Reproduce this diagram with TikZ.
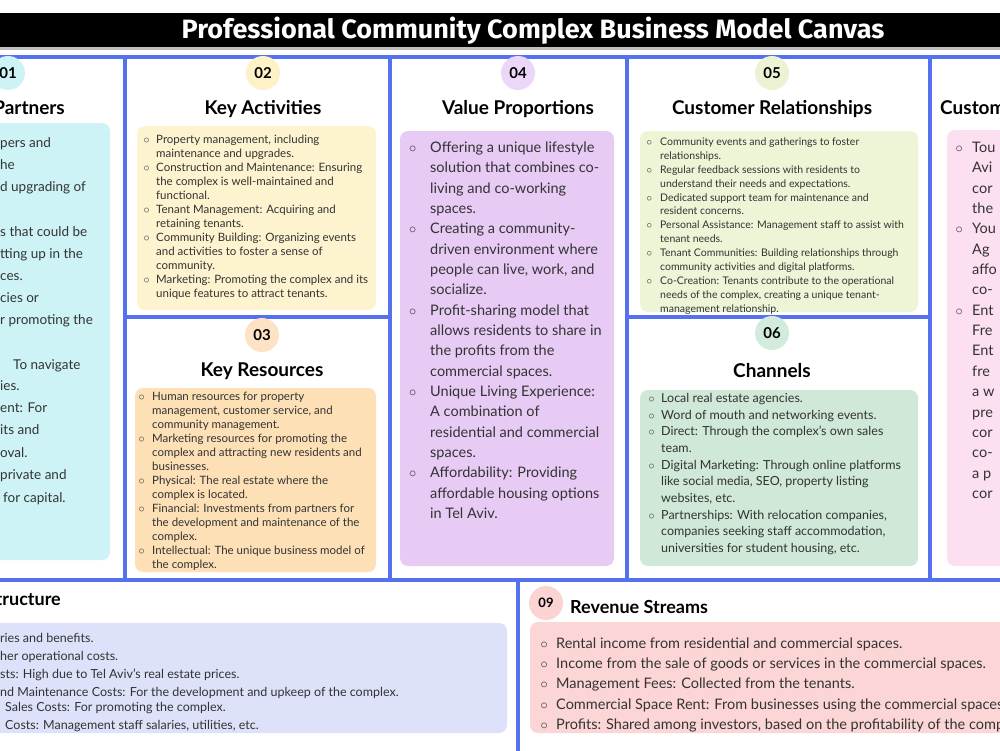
\documentclass[tikz,border=0pt]{standalone}
\usepackage{fontspec}
\setmainfont{Lato}
\newfontfamily\ttlfont{Fira Sans}
\definecolor{bl}{HTML}{5571F0}
\definecolor{cyanbx}{HTML}{CDF3F7}
\definecolor{yelc}{HTML}{FDF1C7}
\definecolor{yelbx}{HTML}{FDF3CF}
\definecolor{peac}{HTML}{FDE3C3}
\definecolor{peabx}{HTML}{FDE0B5}
\definecolor{lavc}{HTML}{EDD7F8}
\definecolor{lavbx}{HTML}{E7CBF5}
\definecolor{grnc}{HTML}{ECF3D5}
\definecolor{grnbx}{HTML}{EEF5D6}
\definecolor{mintc}{HTML}{D3EBDC}
\definecolor{mintbx}{HTML}{CFE8D8}
\definecolor{pinkbx}{HTML}{FCE0F1}
\definecolor{blubx}{HTML}{DDE1FA}
\definecolor{redc}{HTML}{FBD3D3}
\definecolor{redbx}{HTML}{FCD6D6}
\definecolor{txt}{HTML}{333333}
\newcommand{\B}{$\circ$}
\tikzset{
 border/.style={bl,line width=4pt},
 bx/.style={rounded corners=8pt},
 num/.style={circle,minimum size=34pt,inner sep=0,font=\fontsize{15}{15}\selectfont\bfseries},
 head/.style={font=\fontsize{19}{19}\selectfont\bfseries,inner sep=0},
 lst/.style={anchor=north west,inner sep=0,text=txt,align=left},
 frag/.style={anchor=west,inner sep=0,text=txt}
}
\begin{document}
\begin{tikzpicture}[x=1pt,y=-1pt]
\useasboundingbox (0,0) rectangle (1000,750);
\clip (0,0) rectangle (1000,750);
\fill[white] (0,0) rectangle (1000,750);
% title
\fill[black] (0,13) rectangle (1000,47);
\fill[gray!50] (0,47) rectangle (1000,50);
\node[text=white,font=\ttlfont\fontsize{26.5}{26.5}\selectfont\bfseries,xscale=1.02] (title) at (533,31) {Professional Community Complex Business Model Canvas};
% boxes
\fill[cyanbx,bx] (-20,123) rectangle (110,560);
\fill[yelbx,bx] (137,126) rectangle (376,310);
\fill[peabx,bx] (135,388) rectangle (376,572);
\fill[lavbx,bx] (400,131) rectangle (614,566);
\fill[grnbx,bx] (640,131) rectangle (918,312);
\fill[mintbx,bx] (640,390) rectangle (918,566);
\fill[pinkbx,bx] (947,130) rectangle (1030,566);
\fill[blubx,bx] (-20,623) rectangle (507,733);
\fill[redbx,bx] (530,622) rectangle (1030,733);
% borders
\draw[border] (-10,57) -- (1010,57);
\draw[border] (-10,580) -- (1010,580);
\draw[border] (125,57) -- (125,580);
\draw[border] (390,57) -- (390,580);
\draw[border] (627,57) -- (627,580);
\draw[border] (930,57) -- (930,580);
\draw[border] (125,317) -- (390,317);
\draw[border] (627,317) -- (930,317);
\draw[border] (518,580) -- (518,760);
% circles
\node[num,fill=cyanbx] (n1) at (8,73) {01};
\node[num,fill=yelc] (n2) at (263,73) {02};
\node[num,fill=peac] (n3) at (262,335) {03};
\node[num,fill=lavc] (n4) at (518,73) {04};
\node[num,fill=grnc] (n5) at (772,73) {05};
\node[num,fill=mintc] (n6) at (772,333) {06};
\node[num,fill=redc,font=\fontsize{13}{13}\selectfont\bfseries] (n9) at (546,603) {09};
% headings
\node[head,anchor=east] (h1) at (65,109) {Key Partners};
\node[head] (h2) at (263,109) {Key Activities};
\node[head] (h3) at (262,371) {Key Resources};
\node[head] (h4) at (518,109) {Value Proportions};
\node[head] (h5) at (772,109) {Customer Relationships};
\node[head] (h6) at (772,371) {Channels};
\node[head,anchor=west] (h7) at (940,109) {Customer Segments};
\node[head,anchor=east,font=\fontsize{18}{18}\selectfont\bfseries] (h8) at (61,599) {Cost Structure};
\node[head,anchor=west,font=\fontsize{18}{18}\selectfont\bfseries] (h9) at (570,607) {Revenue Streams};
% lists
\node[lst,font=\fontsize{13.5}{22.1}\selectfont] (l1) at (0,132) {%
\begin{tabular}{@{}l@{}}
pers and\\ he\\ d upgrading of\\ \\ s that could be\\ tting up in the\\ ces.\\ cies or\\ r promoting the\\ \\
\\ ies.\\ ent: For\\ its and\\ oval.\\ private and
\end{tabular}};
\node[frag,font=\fontsize{13.5}{16}\selectfont] (f1) at (13,366) {To navigate};
\node[frag,font=\fontsize{13.5}{16}\selectfont] (f2) at (3,499) {for capital.};
\node[lst,font=\fontsize{11.5}{14}\selectfont] (l2) at (143.5,133) {%
\begin{tabular}{@{}p{12.5pt}@{}l@{}}
\B & Property management, including\\ & maintenance and upgrades.\\
\B & Construction and Maintenance: Ensuring\\ & the complex is well-maintained and\\ & functional.\\
\B & Tenant Management: Acquiring and\\ & retaining tenants.\\
\B & Community Building: Organizing events\\ & and activities to foster a sense of\\ & community.\\
\B & Marketing: Promoting the complex and its\\ & unique features to attract tenants.
\end{tabular}};
\node[lst,font=\fontsize{11.5}{14}\selectfont] (l3) at (138.5,390) {%
\begin{tabular}{@{}p{13.5pt}@{}l@{}}
\B & Human resources for property\\ & management, customer service, and\\ & community management.\\
\B & Marketing resources for promoting the\\ & complex and attracting new residents and\\ & businesses.\\
\B & Physical: The real estate where the\\ & complex is located.\\
\B & Financial: Investments from partners for\\ & the development and maintenance of the\\ & complex.\\
\B & Intellectual: The unique business model of\\ & the complex.
\end{tabular}};
\node[lst,font=\fontsize{14.5}{20.33}\selectfont] (l4) at (409,138) {%
\begin{tabular}{@{}p{21pt}@{}l@{}}
\B & Offering a unique lifestyle\\ & solution that combines co-\\ & living and co-working\\ & spaces.\\
\B & Creating a community-\\ & driven environment where\\ & people can live, work, and\\ & socialize.\\
\B & Profit-sharing model that\\ & allows residents to share in\\ & the profits from the\\ & commercial spaces.\\
\B & Unique Living Experience:\\ & A combination of\\ & residential and commercial\\ & spaces.\\
\B & Affordability: Providing\\ & affordable housing options\\ & in Tel Aviv.
\end{tabular}};
\node[lst,font=\fontsize{10.5}{13.9}\selectfont] (l5) at (646.5,135.5) {%
\begin{tabular}{@{}p{13.5pt}@{}l@{}}
\B & Community events and gatherings to foster\\ & relationships.\\
\B & Regular feedback sessions with residents to\\ & understand their needs and expectations.\\
\B & Dedicated support team for maintenance and\\ & resident concerns.\\
\B & Personal Assistance: Management staff to assist with\\ & tenant needs.\\
\B & Tenant Communities: Building relationships through\\ & community activities and digital platforms.\\
\B & Co-Creation: Tenants contribute to the operational\\ & needs of the complex, creating a unique tenant-\\ & management relationship.
\end{tabular}};
\node[lst,font=\fontsize{12.5}{16.7}\selectfont] (l6) at (648.5,390.5) {%
\begin{tabular}{@{}p{12.5pt}@{}l@{}}
\B & Local real estate agencies.\\
\B & Word of mouth and networking events.\\
\B & Direct: Through the complex's own sales\\ & team.\\
\B & Digital Marketing: Through online platforms\\ & like social media, SEO, property listing\\ & websites, etc.\\
\B & Partnerships: With relocation companies,\\ & companies seeking staff accommodation,\\ & universities for student housing, etc.
\end{tabular}};
\node[lst,font=\fontsize{14.5}{20.35}\selectfont] (l7) at (955.5,138) {%
\begin{tabular}{@{}p{16.5pt}@{}l@{}}
\B & Tou\\ & Avi\\ & cor\\ & the\\
\B & You\\ & Ag\\ & affo\\ & co-\\
\B & Ent\\ & Fre\\ & Ent\\ & fre\\ & a w\\ & pre\\ & cor\\ & co-\\ & a p\\ & cor
\end{tabular}};
\node[lst,font=\fontsize{12.5}{17.8}\selectfont] (l8) at (0,630) {%
\begin{tabular}{@{}l@{}}
ries and benefits.\\ her operational costs.\\ sts: High due to Tel Aviv's real estate prices.\\
nd Maintenance Costs: For the development and upkeep of the complex.
\end{tabular}};
\node[frag,font=\fontsize{12.5}{15}\selectfont] (f3) at (5,708) {Sales Costs: For promoting the complex.};
\node[frag,font=\fontsize{12.5}{15}\selectfont] (f4) at (5,726) {Costs: Management staff salaries, utilities, etc.};
\node[lst,font=\fontsize{14.5}{20.25}\selectfont] (l9) at (540.5,634) {%
\begin{tabular}{@{}p{15.5pt}@{}l@{}}
\B & Rental income from residential and commercial spaces.\\
\B & Income from the sale of goods or services in the commercial spaces.\\
\B & Management Fees: Collected from the tenants.\\
\B & Commercial Space Rent: From businesses using the commercial spaces.\\
\B & Profits: Shared among investors, based on the profitability of the complex.
\end{tabular}};
\end{tikzpicture}
\end{document}
